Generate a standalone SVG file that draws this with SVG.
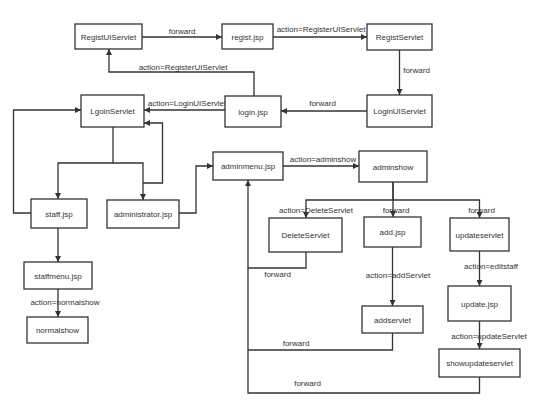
<svg xmlns="http://www.w3.org/2000/svg" width="554" height="408" viewBox="0 0 554 408">
<defs>
<marker id="ah" viewBox="0 0 10 10" refX="10" refY="5" markerWidth="6" markerHeight="6" markerUnits="userSpaceOnUse" orient="auto">
<path d="M0,0 L10,5 L0,10 z" fill="#333"/>
</marker>
<style>
.box{fill:#fff;stroke:#333;stroke-width:1.3}
.nt{font-family:"Liberation Sans",Arial,sans-serif;font-size:8px;fill:#333;text-anchor:middle}
.lb{font-family:"Liberation Sans",Arial,sans-serif;font-size:8px;fill:#333;text-anchor:middle}
.c{fill:none;stroke:#333;stroke-width:1.3}
.a{marker-end:url(#ah)}
</style>
</defs>
<rect width="554" height="408" fill="#fff"/>
<g id="connectors">
<path class="c a" d="M142,37 H222"/>
<path class="c a" d="M273,37 H367"/>
<path class="c a" d="M399.5,50 V95"/>
<path class="c a" d="M367,111 H281"/>
<path class="c a" d="M254,96 V72 H109 V49"/>
<path class="c a" d="M225,110 H144"/>
<path class="c a" d="M113,127 V163 H58 V199"/>
<path class="c a" d="M113,163 H143 V200"/>
<path class="c a" d="M143,183 H162.5 V123 H144"/>
<path class="c a" d="M31,213 H13.5 V110 H81"/>
<path class="c a" d="M58,228 V262"/>
<path class="c a" d="M58,289 V317"/>
<path class="c a" d="M179,213 H196 V166 H213"/>
<path class="c a" d="M283,166 H359"/>
<path class="c a" d="M393,182 V200 H306 V218"/>
<path class="c a" d="M393,182 V217"/>
<path class="c a" d="M393,200 H479.5 V218"/>
<path class="c a" d="M306,252 V268 H248 V180"/>
<path class="c a" d="M392.5,247 V306"/>
<path class="c" d="M392.5,333 V350 H248"/>
<path class="c a" d="M479.5,251 V286"/>
<path class="c a" d="M479.5,321 V349"/>
<path class="c" d="M479.5,377 V393 H248 V268"/>
<text class="lb" x="182" y="33.5">forward</text>
<text class="lb" x="321" y="32">action=RegisterUIServlet</text>
<text class="lb" x="416.5" y="73">forward</text>
<text class="lb" x="322.5" y="106">forward</text>
<text class="lb" x="187" y="106">action=LoginUIServlet</text>
<text class="lb" x="183" y="70">action=RegisterUIServlet</text>
<text class="lb" x="323" y="162">action=adminshow</text>
<text class="lb" x="316" y="213">action=DeleteServlet</text>
<text class="lb" x="396" y="213">forward</text>
<text class="lb" x="481.5" y="213">forward</text>
<text class="lb" x="277.5" y="277">forward</text>
<text class="lb" x="398" y="278">action=addServlet</text>
<text class="lb" x="491" y="268.5">action=editstaff</text>
<text class="lb" x="296" y="346">forward</text>
<text class="lb" x="489" y="339">action=updateServlet</text>
<text class="lb" x="307.5" y="386">forward</text>
<text class="lb" x="65" y="304.5">action=normalshow</text>
</g>
<g id="RegistUIServlet"><rect class="box" x="75" y="24" width="67" height="25"/><text class="nt" x="108.5" y="39.5">RegistUIServlet</text></g>
<g id="regist_jsp"><rect class="box" x="222" y="24" width="51" height="25"/><text class="nt" x="247.5" y="39.5">regist.jsp</text></g>
<g id="RegistServlet"><rect class="box" x="367" y="24" width="65" height="26"/><text class="nt" x="399.5" y="40">RegistServlet</text></g>
<g id="LgoinServlet"><rect class="box" x="81" y="95" width="63" height="32"/><text class="nt" x="112.5" y="114">LgoinServlet</text></g>
<g id="login_jsp"><rect class="box" x="225" y="96" width="56" height="31"/><text class="nt" x="253" y="114.5">login.jsp</text></g>
<g id="LoginUIServlet"><rect class="box" x="367" y="95" width="65" height="32"/><text class="nt" x="399.5" y="114">LoginUIServlet</text></g>
<g id="staff_jsp"><rect class="box" x="31" y="199" width="56" height="29"/><text class="nt" x="59" y="216.5">staff.jsp</text></g>
<g id="administrator_jsp"><rect class="box" x="107" y="200" width="72" height="28"/><text class="nt" x="143" y="217">administrator.jsp</text></g>
<g id="adminmenu_jsp"><rect class="box" x="213" y="152" width="70" height="28"/><text class="nt" x="248" y="169">adminmenu.jsp</text></g>
<g id="adminshow"><rect class="box" x="359" y="151" width="68" height="31"/><text class="nt" x="393" y="169.5">adminshow</text></g>
<g id="DeleteServlet"><rect class="box" x="269" y="218" width="73" height="34"/><text class="nt" x="305.5" y="238">DeleteServlet</text></g>
<g id="add_jsp"><rect class="box" x="364" y="217" width="57" height="30"/><text class="nt" x="392.5" y="235">add.jsp</text></g>
<g id="updateservlet"><rect class="box" x="450" y="218" width="59" height="33"/><text class="nt" x="479.5" y="237.5">updateservlet</text></g>
<g id="staffmenu_jsp"><rect class="box" x="24" y="262" width="68" height="27"/><text class="nt" x="58" y="278.5">staffmenu.jsp</text></g>
<g id="normalshow"><rect class="box" x="27" y="317" width="61" height="26"/><text class="nt" x="57.5" y="333">normalshow</text></g>
<g id="addservlet"><rect class="box" x="362" y="306" width="61" height="27"/><text class="nt" x="392.5" y="322.5">addservlet</text></g>
<g id="update_jsp"><rect class="box" x="448" y="286" width="63" height="35"/><text class="nt" x="479.5" y="306.5">update.jsp</text></g>
<g id="showupdateservlet"><rect class="box" x="439" y="349" width="81" height="28"/><text class="nt" x="479.5" y="366">showupdateservlet</text></g>
</svg>
